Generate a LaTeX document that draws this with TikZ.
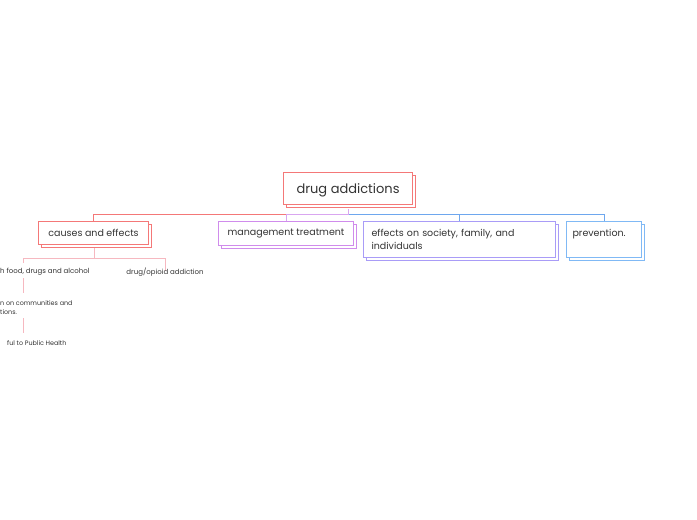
\documentclass[tikz,border=0pt]{standalone}
\usepackage{fontspec}
\setmainfont{Poppins}
\usetikzlibrary{shadows,backgrounds}
\definecolor{cred}{HTML}{F47878}
\definecolor{cpink}{HTML}{F6B8C0}
\definecolor{cpurple}{HTML}{D08CEC}
\definecolor{cpurpleline}{HTML}{D9A6F0}
\definecolor{clav}{HTML}{A99CF7}
\definecolor{cblue}{HTML}{80B9F5}
\definecolor{cblueline}{HTML}{6EA7EE}
\definecolor{ctext}{HTML}{333333}
\tikzset{
  topic/.style={draw, fill=white, line width=1.1pt, rectangle, anchor=north west,
    copy shadow={shadow xshift=3pt, shadow yshift=-3pt}, text=ctext, inner sep=0pt},
  lab/.style={text=ctext, inner sep=0pt, font=\fontsize{7}{8.5}\selectfont},
  labs/.style={text=ctext, inner sep=0pt, font=\fontsize{6.4}{8.5}\selectfont},
  conn/.style={line width=0.9pt},
}
\begin{document}
\begin{tikzpicture}[x=1pt,y=-1pt]
\clip (0,0) rectangle (697,520);
\node[topic, draw=cred, minimum width=129pt, minimum height=32pt,
  font=\fontsize{13}{15}\selectfont, text height=10pt, text depth=1pt] (root) at (283,172) {drug addictions};
\node[topic, draw=cred, minimum width=110pt, minimum height=23pt,
  font=\fontsize{9.5}{12}\selectfont] (c1) at (38,221) {causes and effects};
\node[topic, draw=cpurple, minimum width=135pt, minimum height=24pt,
  font=\fontsize{9.5}{12}\selectfont] (c2) at (218,221) {management treatment};
\node[topic, draw=clav, minimum width=192pt, minimum height=36pt,
  font=\fontsize{9.5}{12.5}\selectfont, align=left, text width=176pt, inner xsep=8pt] (c3) at (363,221) {effects on society, family, and\\individuals};
\node[topic, draw=cblue, minimum width=75pt, minimum height=36pt,
  font=\fontsize{9.5}{12}\selectfont, align=left, text width=63pt, inner xsep=6pt, inner ysep=6pt,
  text height=8.5pt, text depth=15.5pt] (c4) at (566,221) {prevention.};
% sub items
\node[lab, anchor=west] (s1) at (0,272) {h food, drugs and alcohol};
\node[lab] (s2) at (165,272) {drug/opioid addiction};
\node[labs, anchor=west, align=left] (s3) at (0,307.5) {n on communities and\\tions.};
\node[labs, anchor=west] (s4) at (7,343) {ful to Public Health};
\coordinate (s1n) at (23,263);
\coordinate (s1s) at (23,278);
\coordinate (s3n) at (23,293);
\coordinate (s3s) at (23,318);
\coordinate (s4n) at (23,333);
\begin{scope}[on background layer]
\fill[white] (0,0) rectangle (697,520);
\draw[conn, cred] (root.south) ++(0,4) -- ++(0,5) -| (c1.north);
\draw[conn, cblueline] (root.south) ++(0,4) -- ++(0,5) -| (c4.north);
\draw[conn, cblueline] (root.south) ++(0,4) -- ++(0,5) -| (c3.north);
\draw[conn, cpurpleline] (root.south) ++(0,4) -- ++(0,5) -| ([xshift=0.5pt]c2.north);
\draw[conn, cpink] (c1.south) ++(1,3) -- ++(0,10) -| (s1n);
\draw[conn, cpink] (c1.south) ++(1,3) -- ++(0,10) -| ([yshift=-3pt]s2.north);
\draw[conn, cpink] (s1s) -- (s3n);
\draw[conn, cpink] (s3s) -- (s4n);
\end{scope}
\end{tikzpicture}
\end{document}
